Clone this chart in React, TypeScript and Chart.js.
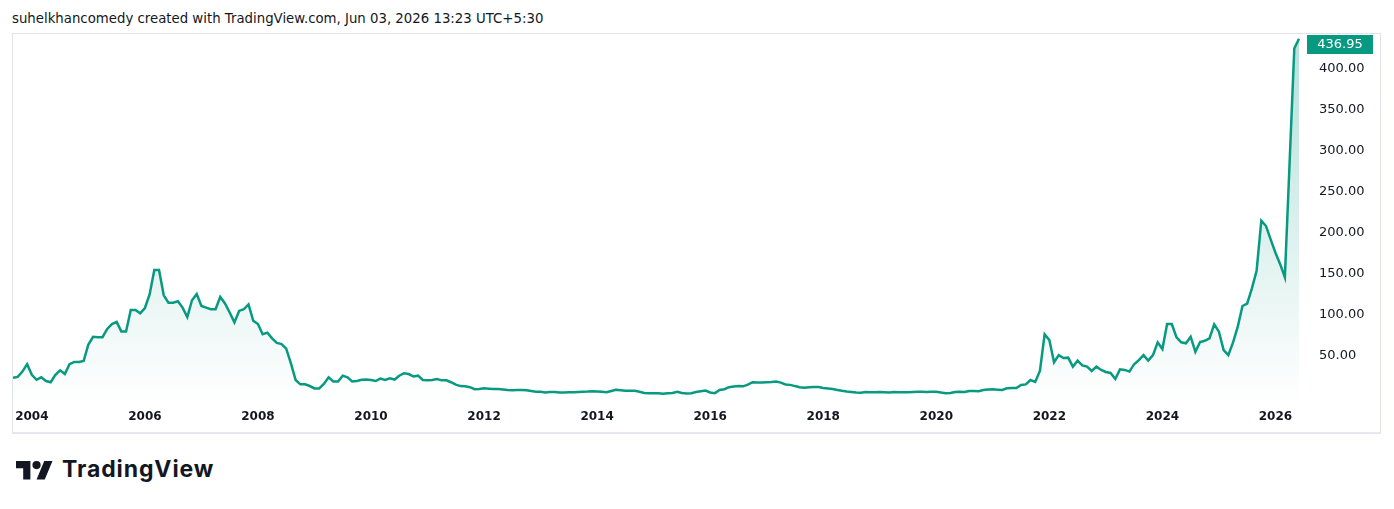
import React, { useEffect, useRef } from "react";
import { Chart, registerables } from "chart.js";

Chart.register(...registerables);

// Monthly closes, first bar = Sep 2003
const startYear = 2003;
const startMonth = 9;

const closes2003to2007 = [
  23.5, 24.5, 31, 40, 27, 21, 24, 19.5, 18, 27,
  32.5, 28, 40, 42.7, 42.7, 44, 64, 73.5, 73, 73,
  83, 89, 91.5, 80, 80, 106, 106, 102, 108.5, 125,
  155, 155, 124, 115, 115, 116.7, 109, 97.5, 118, 125.6,
  111, 109, 107, 107, 122, 114,
];
const closes2007to2011 = [
  103, 91, 105, 107, 113, 93, 89, 76.5, 78.5, 71.5,
  66, 64.6, 59, 41, 20.7, 15.4, 15.4, 13.4, 10.5, 10.5,
  16, 24, 19, 19, 26, 24, 19, 19.5, 21, 21.3,
  20.7, 19.5, 22.4, 20.7, 22.8, 21.3, 26, 29, 28, 25,
  26, 20.7, 20.3, 20.7, 22, 20.3, 20.3,
];
const closes2011to2016 = [
  18, 15, 13.3, 13, 12, 9.5, 9.8, 10.6, 10.2, 9.8,
  9.7, 9.2, 8.4, 8.2, 8.5, 8.5, 8.1, 7.3, 6.5, 6.5,
  5.6, 6.2, 6, 5.4, 5.5, 5.9, 5.9, 6.2, 6.5, 6.6,
  6.9, 6.8, 6.4, 5.8, 7.3, 8.7, 8.3, 7.7, 7.7, 7.5,
  6.5, 5, 4.5, 4.5, 4.5, 4.1, 4.5, 4.9, 6.3, 4.8,
  4.2, 4.7, 6, 7.1, 7.8, 5.5, 4.7, 8.6, 9.5, 12,
  12.8, 13.5, 13,
];
const closes2016to2021 = [
  15, 18, 17.6, 17.8, 18.1, 18.3, 18.8, 17.5, 15.3, 14.8,
  13.3, 12, 11.4, 12, 12.2, 12.1, 11, 10.4, 9.8, 8.6,
  7.5, 6.6, 6.1, 5.4, 5.1, 6, 5.9, 5.7, 6, 5.8,
  5.4, 6, 5.9, 5.7, 5.9, 6.1, 6.4, 6.4, 6.1, 6.3,
  6.5, 5.4, 4.5, 4.8, 6, 6.4, 6.1, 7.3, 7.3, 7.1,
  8.5, 9.1, 9.3, 8.9,
];
const closes2021to2024 = [
  8.5, 10.6, 11, 11, 14.6, 15.4, 20.7, 18.3, 31.7, 76.4,
  69.5, 42.3, 51, 47.6, 48, 37, 44.3, 38.6, 37, 31.7,
  37, 33, 30.5, 29.3, 22, 33.7, 33, 31, 40, 45,
  51, 44.3, 51, 66.7, 58.5, 89, 89, 72.8, 66.7, 65.5,
  73.5, 55, 67,
];
const closes2024to2026 = [
  68.5, 71.5, 88.6, 79.7, 57.3, 51, 66.7, 85.8, 111, 114,
  132.5, 154, 215, 208.5, 192, 176, 162, 146, 285, 425,
  436.95,
];

const closes = [
  ...closes2003to2007,
  ...closes2007to2011,
  ...closes2011to2016,
  ...closes2016to2021,
  ...closes2021to2024,
  ...closes2024to2026,
];

const months = closes.map((_, k) => {
  const m = startMonth - 1 + k;
  const y = startYear + Math.floor(m / 12);
  const mm = (m % 12) + 1;
  return `${y}-${String(mm).padStart(2, "0")}`;
});

const priceTicks = [50, 100, 150, 200, 250, 300, 350, 400];
const yMin = -6.1;
const yMax = 442.7;

const headerText =
  "suhelkhancomedy created with TradingView.com, Jun 03, 2026 13:23 UTC+5:30";

const lineColor = "#089981";
const textColor = "#131722";

export default function App() {
  const canvasRef = useRef<HTMLCanvasElement | null>(null);

  useEffect(() => {
    if (!canvasRef.current) return;
    const lastPrice = closes[closes.length - 1];

    const tagPlugin = {
      id: "lastPriceTag",
      afterDraw(chart: any) {
        const { ctx, chartArea, scales } = chart;
        const h = 19;
        const w = 66;
        const y = scales.y.getPixelForValue(lastPrice);
        let top = y - h / 2;
        if (top < chartArea.top + 1) top = chartArea.top + 1;
        const left = chartArea.right + 8;
        ctx.save();
        ctx.fillStyle = lineColor;
        ctx.fillRect(left, top, w, h);
        ctx.fillStyle = "#ffffff";
        ctx.font = '13px "DejaVu Sans"';
        ctx.textAlign = "center";
        ctx.textBaseline = "middle";
        ctx.fillText(lastPrice.toFixed(2), left + w / 2, top + h / 2 + 0.5);
        ctx.restore();
      },
    };

    const chart = new Chart(canvasRef.current, {
      type: "line",
      data: {
        labels: months,
        datasets: [
          {
            data: closes,
            borderColor: lineColor,
            borderWidth: 2.5,
            pointRadius: 0,
            tension: 0,
            fill: "start",
            backgroundColor: (c: any) => {
              const { chart } = c;
              const area = chart.chartArea;
              if (!area) return "rgba(8,153,129,0.1)";
              const g = chart.ctx.createLinearGradient(0, area.top, 0, area.bottom);
              g.addColorStop(0, "rgba(8,153,129,0.3)");
              g.addColorStop(1, "rgba(8,153,129,0.0)");
              return g;
            },
          },
        ],
      },
      options: {
        animation: false,
        responsive: false,
        maintainAspectRatio: false,
        layout: { padding: 0 },
        plugins: {
          legend: { display: false },
          tooltip: { enabled: false },
        },
        scales: {
          x: {
            type: "category",
            offset: false,
            grid: { display: false, drawTicks: false },
            border: { display: false },
            ticks: {
              autoSkip: false,
              maxRotation: 0,
              minRotation: 0,
              padding: 8,
              color: textColor,
              font: { family: "DejaVu Sans", size: 12, weight: "bold" },
              callback: (_v: any, idx: number) => {
                const [y, m] = months[idx].split("-");
                return m === "01" && Number(y) % 2 === 0 ? y : "";
              },
            },
            afterFit: (s: any) => {
              s.height = 30;
              s.paddingLeft = 0;
              s.paddingRight = 0;
            },
          },
          y: {
            position: "right",
            min: yMin,
            max: yMax,
            grid: { display: false, drawTicks: false },
            border: { display: false },
            afterBuildTicks: (s: any) => {
              s.ticks = priceTicks.map((v) => ({ value: v }));
            },
            ticks: {
              padding: 20,
              color: textColor,
              font: { family: "DejaVu Sans", size: 13 },
              callback: (v: any) => Number(v).toFixed(2),
            },
            afterFit: (s: any) => {
              s.width = 81;
              s.paddingTop = 0;
              s.paddingBottom = 0;
            },
          },
        },
      },
      plugins: [tagPlugin],
    } as any);

    return () => chart.destroy();
  }, []);

  return (
    <div
      style={{
        position: "fixed",
        left: 0,
        top: 0,
        width: 1394,
        height: 509,
        background: "#ffffff",
        overflow: "hidden",
      }}
    >
      <div
        style={{
          position: "absolute",
          left: 12,
          top: 11,
          fontFamily: '"DejaVu Sans", sans-serif',
          fontSize: 13.3,
          lineHeight: "16px",
          color: textColor,
          whiteSpace: "nowrap",
        }}
      >
        {headerText}
      </div>
      <div
        style={{
          position: "absolute",
          left: 12,
          top: 33,
          width: 1369,
          height: 401,
          border: "1px solid #e0e3eb",
          borderBottom: "2px solid #e6e8ee",
          boxSizing: "border-box",
        }}
      />
      <canvas
        ref={canvasRef}
        width={1367}
        height={398}
        style={{ position: "absolute", left: 13, top: 34, width: 1367, height: 398 }}
      />
      <svg
        viewBox="0 4 36 18"
        width={37}
        height={18.5}
        style={{ position: "absolute", left: 15.5, top: 461 }}
      >
        <path d="M14 22H7V11H0V4h14v18zM28 22h-8l7.5-18h8L28 22z" fill="#131722" />
        <circle cx="20" cy="8" r="4" fill="#131722" />
      </svg>
      <div
        style={{
          position: "absolute",
          left: 62,
          top: 458,
          fontFamily: "Inter, sans-serif",
          fontWeight: 700,
          fontSize: 23,
          lineHeight: "23px",
          color: "#131722",
          letterSpacing: "0.9px",
          whiteSpace: "nowrap",
        }}
      >
        TradingView
      </div>
    </div>
  );
}
